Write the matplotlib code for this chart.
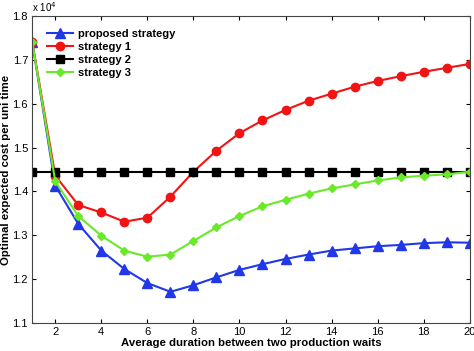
import matplotlib.pyplot as plt
import numpy as np

plt.rcParams['font.family'] = ['Liberation Sans', 'DejaVu Sans']

# average duration between two production waits
duration = np.arange(1, 21)

# optimal expected cost per unit time (x 10^4)
proposed = [1.741, 1.413, 1.326, 1.265, 1.223, 1.191, 1.171, 1.186, 1.204, 1.221,
            1.234, 1.246, 1.256, 1.265, 1.270, 1.275, 1.278, 1.282, 1.284, 1.283]
strategy1 = [1.741, 1.436, 1.369, 1.352, 1.331, 1.340, 1.388, 1.445, 1.493, 1.533,
             1.562, 1.586, 1.607, 1.623, 1.639, 1.652, 1.663, 1.673, 1.682, 1.691]
strategy2 = [1.445] * 20
strategy3 = [1.741, 1.423, 1.344, 1.299, 1.265, 1.251, 1.256, 1.287, 1.318, 1.344,
             1.366, 1.381, 1.395, 1.407, 1.416, 1.425, 1.432, 1.436, 1.439, 1.445]

fig = plt.figure(figsize=(4.74, 3.51), dpi=100)
ax = fig.add_axes([0.068, 0.08, 0.923, 0.874])

ax.plot(duration, proposed, color='#2038e8', marker='^', markersize=6.5, lw=1.5,
        label='proposed strategy')
ax.plot(duration, strategy1, color='#f01414', marker='o', markersize=6, lw=1.5,
        label='strategy 1')
ax.plot(duration, strategy2, color='black', marker='s', markersize=5.5, lw=1.5,
        label='strategy 2')
ax.plot(duration, strategy3, color='#6ae82a', marker='D', markersize=4.5, lw=1.5,
        label='strategy 3')

ax.set_xlim(1, 20)
ax.set_ylim(1.1, 1.8)
ax.set_xticks(np.arange(2, 21, 2))
ax.set_yticks(np.arange(1.1, 1.81, 0.1))
ax.set_yticklabels([f'{v:.1f}' for v in np.arange(1.1, 1.81, 0.1)])
ax.tick_params(direction='in', top=True, right=True, labelsize=8, length=3, pad=3)
for s in ax.spines.values():
    s.set_linewidth(0.8)
    s.set_color('#444444')

ax.text(0.0, 1.006, r'x 10$^4$', transform=ax.transAxes, fontsize=7, va='bottom')

ax.set_xlabel('Average duration between two production waits', fontsize=8.2,
              fontweight='bold', labelpad=1)
ax.set_ylabel('Optimal expected cost per uni time', fontsize=8.2,
              fontweight='bold', labelpad=1)

ax.legend(loc='upper left', frameon=False, prop={'weight': 'bold', 'size': 8},
          handlelength=2.4, handletextpad=0.4, labelspacing=0.25,
          bbox_to_anchor=(0.01, 0.99))

fig.savefig('out.png', dpi=100)
